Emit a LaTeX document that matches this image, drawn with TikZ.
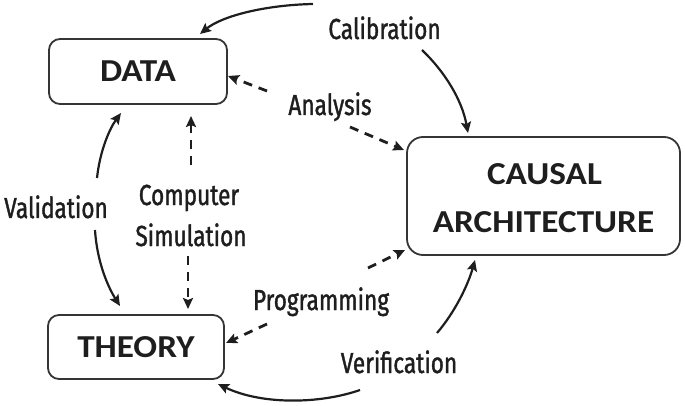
\documentclass[tikz,border=0pt]{standalone}
\usepackage{fontspec}
\usetikzlibrary{arrows.meta}
\newfontfamily\boxfont[FakeStretch=1.1]{Carlito}
\newfontfamily\labfont[FakeStretch=0.78, FakeBold=1.3]{Fira Sans}
\definecolor{ink}{HTML}{1E1E1E}
\begin{document}
\begin{tikzpicture}[x=1pt,y=-1pt,
  boxnode/.style={draw=ink!90, line width=1.8pt, rounded corners=11pt, text=ink,
    font=\boxfont\bfseries\fontsize{32}{48}\selectfont, inner sep=0pt, align=center},
  lab/.style={text=ink, font=\labfont\fontsize{29}{41}\selectfont, inner sep=0pt, align=center},
  conn/.style={draw=ink, line width=2.2pt, -{Stealth[length=11pt,width=10pt,inset=2pt]}},
  dconn/.style={conn, line width=2.8pt, dash pattern=on 9pt off 7pt}]
\useasboundingbox (0,0) rectangle (685,406);
% boxes
\node[boxnode, minimum width=178pt, minimum height=65pt] (data) at (138,71.5) {DATA};
\node[boxnode, minimum width=176pt, minimum height=64pt] (theory) at (136,347) {THEORY};
\node[boxnode, minimum width=273pt, minimum height=118pt, rounded corners=16pt] (causal) at (543.5,196) {};
\node[text=ink, font=\boxfont\bfseries\fontsize{32}{48}\selectfont, anchor=base] (causal1) at (544.5,185) {CAUSAL};
\node[text=ink, font=\boxfont\bfseries\fontsize{32}{48}\selectfont, anchor=base] (causal2) at (543.5,233) {ARCHITECTURE};
% labels
\node[lab, anchor=base] (calib) at (384.5,39) {Calibration};
\node[lab, anchor=base] (analysis) at (330,115) {Analysis};
\node[lab, anchor=base] (valid) at (56,218) {Validation};
\node[lab, anchor=base] (comp) at (189,205) {Computer};
\node[lab, anchor=base] (simul) at (191,246) {Simulation};
\node[lab, anchor=base] (prog) at (321,310) {Programming};
\node[lab, anchor=base] (verif) at (399,373) {Verification};
% connector end points
\coordinate (c1) at (313,4);   \coordinate (c1t) at (200,34);
\coordinate (c2) at (422,50);  \coordinate (c2t) at (468,133);
\coordinate (a1) at (267,91);  \coordinate (a1t) at (228,76);
\coordinate (a2) at (350,127); \coordinate (a2t) at (404,150);
\coordinate (v1) at (97,178);  \coordinate (v1t) at (121,113);
\coordinate (v2) at (95,230);  \coordinate (v2t) at (120,306);
\coordinate (s1) at (191,165); \coordinate (s1t) at (191,116);
\coordinate (s2) at (188,256); \coordinate (s2t) at (188,309);
\coordinate (p1) at (267,324); \coordinate (p1t) at (226,343);
\coordinate (p2) at (368,268); \coordinate (p2t) at (405,250);
\coordinate (r1) at (437,333); \coordinate (r1t) at (475,260);
\coordinate (r2) at (360,390); \coordinate (r2t) at (218,384);
% solid curved connectors
\draw[conn] (c1) .. controls (265,5) and (222,16) .. (c1t);
\draw[conn] (c2) .. controls (445,72) and (462,100) .. (c2t);
\draw[conn] (v1) .. controls (100,150) and (110,128) .. (v1t);
\draw[conn] (v2) .. controls (97,262) and (108,287) .. (v2t);
\draw[conn] (r1) .. controls (455,312) and (468,285) .. (r1t);
\draw[conn] (r2) .. controls (320,404) and (262,405) .. (r2t);
% dashed connectors
\draw[dconn] (a1) -- (a1t);
\draw[dconn] (a2) -- (a2t);
\draw[dconn] (s1) -- (s1t);
\draw[dconn] (s2) -- (s2t);
\draw[dconn] (p1) -- (p1t);
\draw[dconn] (p2) -- (p2t);
\end{tikzpicture}
\end{document}
